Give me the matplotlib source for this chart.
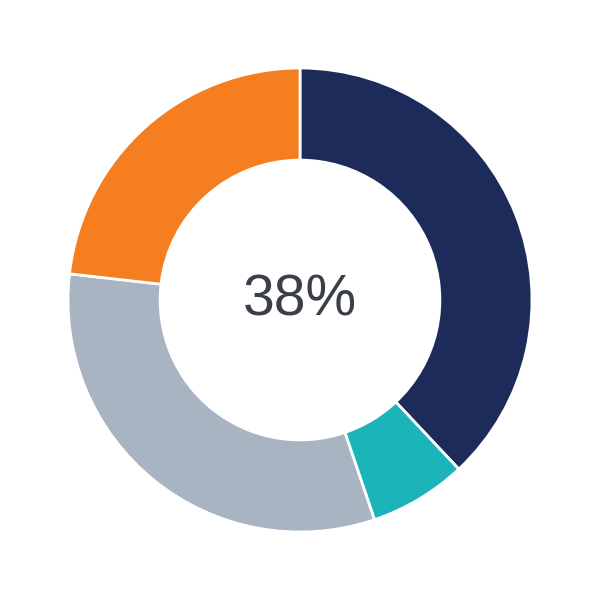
import matplotlib
matplotlib.use('Agg')
import matplotlib.pyplot as plt

# segment shares, clockwise from 12 o'clock
labels = ['Navy', 'Teal', 'Gray', 'Orange']
values = [38, 6.8, 32, 23.2]
colors = ['#1c2b5a', '#1bb4b8', '#a9b4c3', '#f47e20']
center_label = '38%'

fig = plt.figure(figsize=(6, 6), dpi=100)
ax = fig.add_axes([0, 0, 1, 1])

ax.pie(values, colors=colors, startangle=90, counterclock=False,
       radius=1.0,
       wedgeprops=dict(width=0.397, edgecolor='white', linewidth=2))

ax.text(0, 0, center_label, ha='center', va='center', fontsize=41,
        color='#3a3f4a', family=['Liberation Sans', 'DejaVu Sans'])

lim = 300 / 232
ax.set_xlim(-lim, lim)
ax.set_ylim(-lim, lim)
ax.set_aspect('equal')
ax.axis('off')

fig.savefig('out.png', dpi=100, facecolor='white')
